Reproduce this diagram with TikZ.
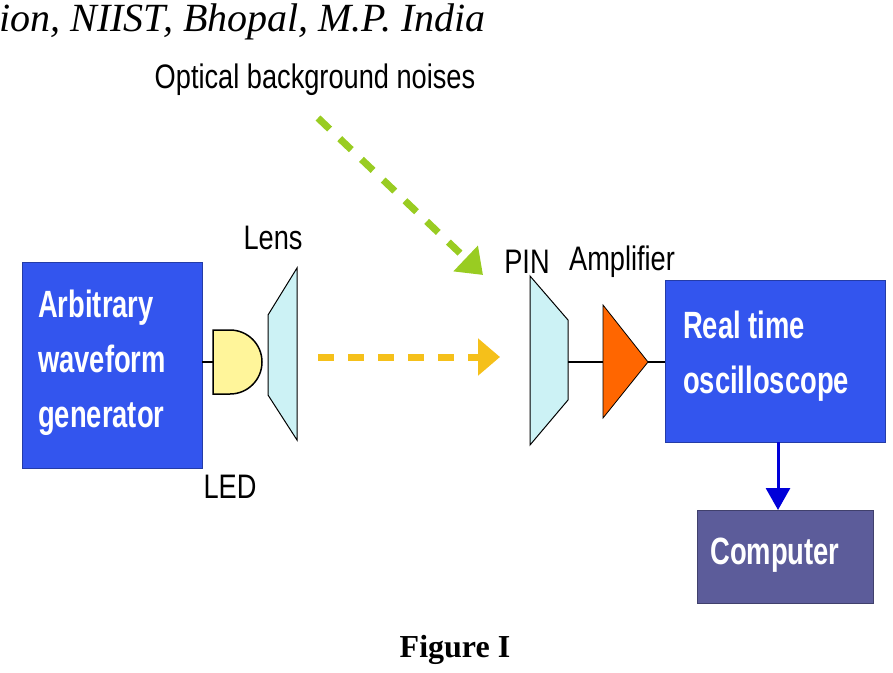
\documentclass[tikz,border=0pt]{standalone}
\usepackage{fontspec}
\setmainfont{Liberation Serif}
\newfontfamily\nar{Liberation Sans}[FakeStretch=0.8]
\newfontfamily\narb{Liberation Sans}[FakeStretch=0.72]
\usetikzlibrary{arrows.meta}
\definecolor{boxblue}{HTML}{3355EE}
\definecolor{compc}{HTML}{5C5C9A}
\definecolor{ledy}{HTML}{FFF59A}
\definecolor{lensc}{HTML}{CCF2F5}
\definecolor{ampc}{HTML}{FF6600}
\definecolor{dashy}{HTML}{F5C01A}
\definecolor{dashg}{HTML}{99CC22}
\begin{document}
\begin{tikzpicture}[x=1pt,y=-1pt,
  box/.style={draw=boxblue!70!black,fill=boxblue,inner sep=0pt,anchor=north west},
  btxt/.style={text=white,font=\narb\bfseries\fontsize{38}{55}\selectfont,align=left,inner sep=0pt,anchor=west},
  lbl/.style={font=\nar\fontsize{34}{36}\selectfont,inner sep=0pt},
  ln/.style={line width=1.5pt}]
\useasboundingbox (0,0) rectangle (893,672);
\node[font=\itshape\fontsize{40}{42}\selectfont,anchor=west,inner sep=0] (hdr) at (-12,22) {tion, NIIST, Bhopal, M.P. India};
\node[font=\bfseries\fontsize{32}{34}\selectfont,inner sep=0] (fig) at (455,650) {Figure I};
% boxes
\node[box,minimum width=180pt,minimum height=206pt] (awg) at (22,262) {};
\node[btxt] (awgt) at (38,363) {Arbitrary\\waveform\\generator};
\node[box,minimum width=220pt,minimum height=162pt] (osc) at (665,280) {};
\node[btxt] (osct) at (683,356) {Real time\\oscilloscope};
\node[box,fill=compc,draw=compc!70!black,minimum width=176pt,minimum height=93pt] (comp) at (697,510) {};
\node[btxt,anchor=center] (compt) at (775,555) {Computer};
% LED
\coordinate (ledL) at (213,362);
\draw[ln] (awg.east|-ledL) -- (ledL);
\draw[ln,fill=ledy] (213,330) -- (230,330) arc[start angle=-90,end angle=90,radius=32] -- (213,394) -- cycle;
% lens
\draw[line width=1pt,fill=lensc] (297,268) -- (297,440) -- (268,395) -- (268,315) -- cycle;
% PIN
\draw[line width=1pt,fill=lensc] (530,276) -- (568,320) -- (568,400) -- (530,445) -- cycle;
\coordinate (pinR) at (568,362);
% amplifier
\draw[line width=0.8pt,fill=ampc] (603,305) -- (648,362) -- (603,418) -- cycle;
\coordinate (ampL) at (603,362);
\coordinate (ampR) at (648,362);
\draw[ln] (pinR) -- (ampL);
\draw[ln] (ampR) -- (osc.west|-ampR);
% arrows
\coordinate (ya) at (318,357);
\coordinate (yb) at (500,357);
\draw[dashy,line width=7pt,dash pattern=on 16pt off 14pt,-{Triangle[length=22pt,width=36pt]}] (ya) -- (yb);
\coordinate (ga) at (318,118);
\coordinate (gb) at (483,275);
\draw[dashg,line width=7pt,dash pattern=on 16pt off 14pt,-{Triangle[length=24pt,width=34pt]}] (ga) -- (gb);
\draw[blue!85!black,line width=3pt,-{Triangle[length=22pt,width=24pt]}] (osc.south-|778,0) -- (comp.north-|778,0);
% labels
\node[lbl] (noise) at (315,80) {Optical background noises};
\node[lbl] (lens) at (273,238) {Lens};
\node[lbl] (pin) at (527,262) {PIN};
\node[lbl] (amp) at (622,262) {Amplifier};
\node[lbl] (led) at (230,487) {LED};
\end{tikzpicture}
\end{document}
